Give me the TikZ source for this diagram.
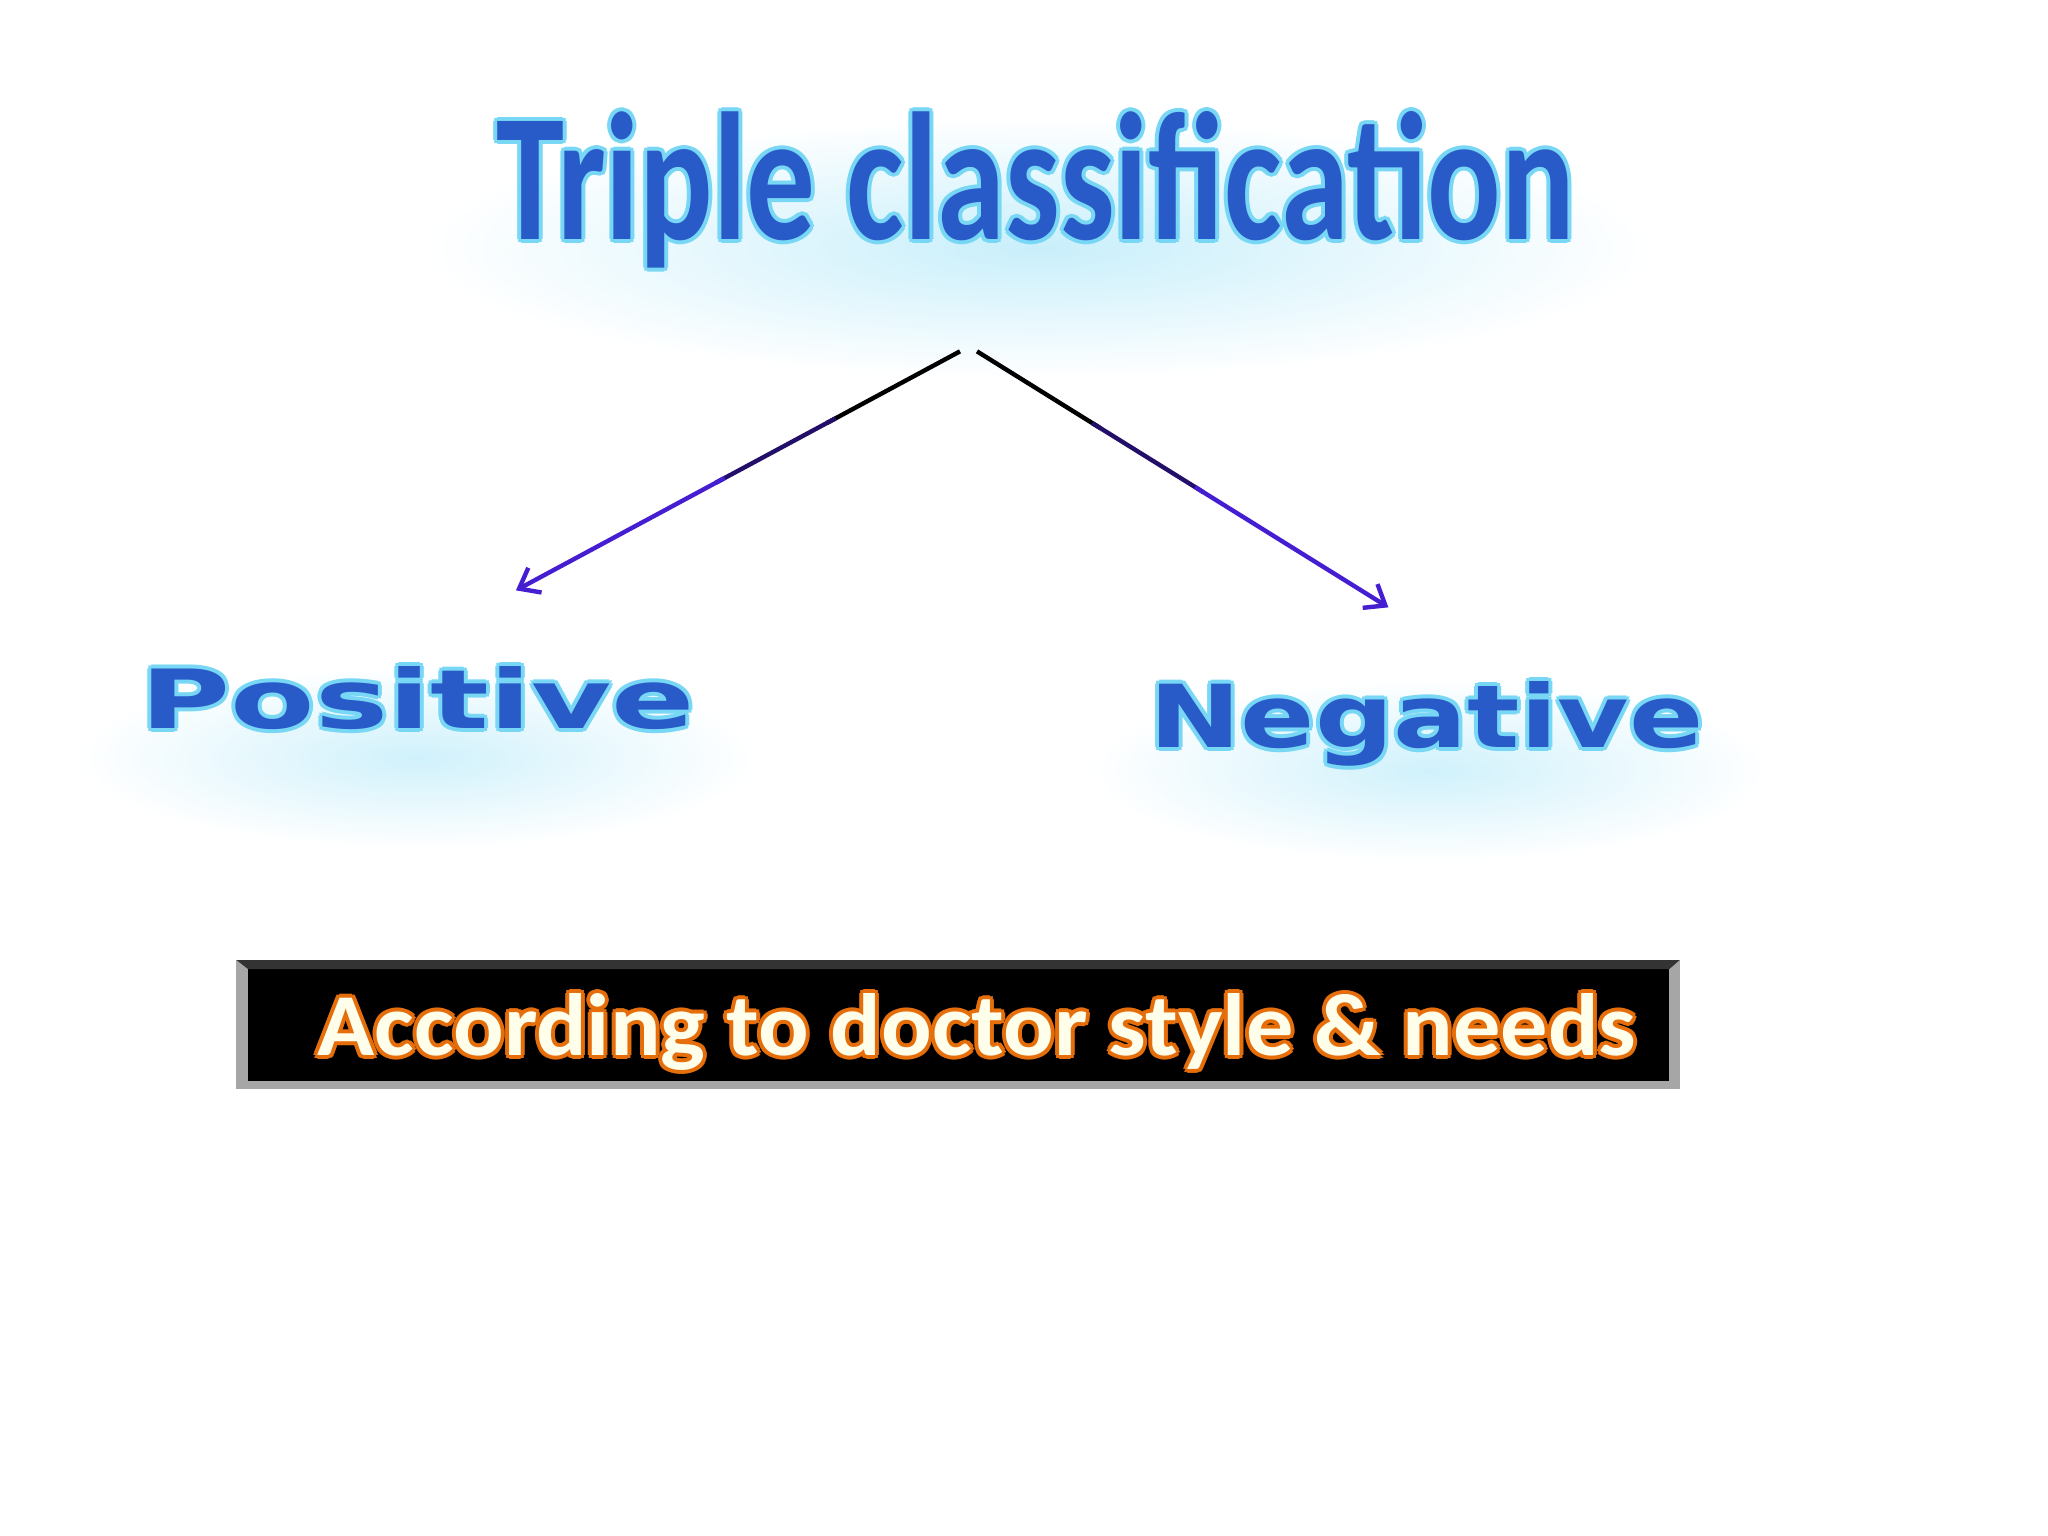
\documentclass[tikz,border=0pt]{standalone}
\usepackage{fontspec}
\setmainfont{Carlito}
\newfontfamily\widefont{DejaVu Sans}
\usetikzlibrary{arrows.meta,shadings,calc,shapes.geometric}
\definecolor{tblue}{RGB}{40,90,200}
\definecolor{glowc}{RGB}{120,215,245}
\definecolor{arrc}{RGB}{70,30,210}
\definecolor{orng}{RGB}{230,110,10}
\newcommand{\glowtext}[3]{% color glow, color text, content
  \tikz[baseline]{\foreach \dx/\dy in {0/2,0/-2,2/0,-2/0,1.5/1.5,-1.5/1.5,1.5/-1.5,-1.5/-1.5}
   {\node[inner sep=0,anchor=base,text=#1] at (\dx pt,\dy pt) {#3};}
   \node[inner sep=0,anchor=base,text=#2] at (0,0) {#3};}}
\tikzset{lbl/.style={inner sep=0,anchor=base},
 arr/.style={line width=2.2pt,-{Straight Barb[length=9pt,width=14pt]}}}
\begin{document}
\begin{tikzpicture}[x=0.653pt,y=-0.653pt]
\useasboundingbox[fill=white] (0,0) rectangle (1568,1176);
% halos
\shade[inner color=glowc!40,outer color=white] (795,190) ellipse (470 and 100);
\shade[inner color=glowc!35,outer color=white] (320,580) ellipse (260 and 70);
\shade[inner color=glowc!35,outer color=white] (1095,590) ellipse (260 and 70);
% title
\node[lbl] (title) at (793,183) {\glowtext{glowc}{tblue}{\resizebox{539pt}{64pt}{\bfseries Triple classification}}};
\node[lbl] (pos) at (320,558) {\glowtext{glowc}{tblue}{\resizebox{277pt}{31pt}{\widefont\bfseries Positive}}};
\node[lbl] (neg) at (1092,572) {\glowtext{glowc}{tblue}{\resizebox{277pt}{33pt}{\widefont\bfseries Negative}}};
% arrows
\coordinate (s1) at (735,269);
\coordinate (s2) at (748,269);
\coordinate (e1) at (395,452);
\coordinate (e2) at (1063,465);
\draw[line width=2.2pt,black] (s1) -- ($(s1)!0.3!(e1)$);
\draw[line width=2.2pt,black!50!arrc] ($(s1)!0.28!(e1)$) -- ($(s1)!0.55!(e1)$);
\draw[arr,arrc] ($(s1)!0.53!(e1)$) -- (e1);
\draw[line width=2.2pt,black] (s2) -- ($(s2)!0.3!(e2)$);
\draw[line width=2.2pt,black!50!arrc] ($(s2)!0.28!(e2)$) -- ($(s2)!0.55!(e2)$);
\draw[arr,arrc] ($(s2)!0.53!(e2)$) -- (e2);
% box
\fill[gray!70] (181,735) rectangle (1286,834);
\fill[black] (190,742) rectangle (1278,828);
\fill[black!80] (181,735) -- (190,742) -- (1278,742) -- (1286,735) -- cycle;
\node[lbl] (box) at (748,808) {\glowtext{orng}{white!92!yellow}{\resizebox{659pt}{31pt}{\bfseries According to doctor style \& needs}}};
\end{tikzpicture}
\end{document}
